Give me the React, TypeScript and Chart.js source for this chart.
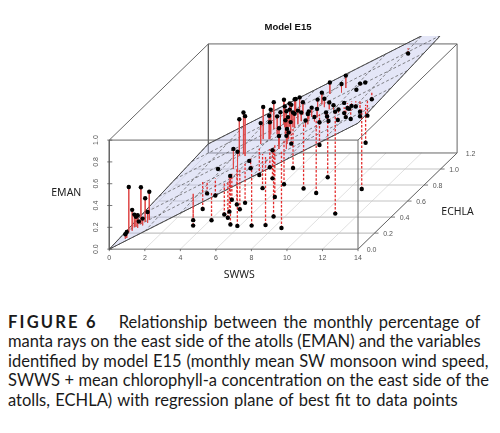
import React, { useEffect, useRef } from "react";
import { Chart, registerables } from "chart.js";

Chart.register(...registerables);

const TITLE = "Model E15";
const X_TITLE = "SWWS";
const Y_TITLE = "ECHLA";
const Z_TITLE = "EMAN";

// monthly observations
const SWWS = [
  0.40, 0.59, 0.48, 0.57, 0.90, 0.50, 0.85, 1.18, 1.09, 1.32, 1.46, 0.75, 0.67,
  3.42, 3.42, 3.12, 3.60, 5.15, 4.25, 3.75, 5.73, 5.93, 5.60,
  6.40, 6.48, 5.55, 5.60, 5.86, 5.86, 5.97, 6.11, 6.05, 6.71,
  5.98, 6.86, 7.40, 7.13, 7.42, 7.48, 7.18, 8.53, 7.65, 7.60,
  8.24, 9.09, 8.95, 9.83, 10.72, 13.00, 12.94, 5.22, 5.87, 7.56,
  8.11, 8.90, 7.92, 8.47, 8.14,
  4.53, 4.81, 5.18, 5.64, 5.41, 6.07, 5.74, 5.54, 6.11, 6.43,
  6.24, 7.60, 6.16, 6.53, 6.90, 7.31, 7.27, 6.76, 6.62, 6.40,
  7.41, 7.84, 6.53, 6.30, 7.64, 7.69, 7.18, 8.77, 8.71, 8.30,
  8.37, 9.13, 9.00, 8.24, 9.97, 8.20, 8.76, 9.97, 10.26, 9.50,
  8.00, 9.97, 10.62, 10.81, 11.19, 10.85, 9.12, 9.13, 10.43, 10.90,
  11.22, 10.85, 11.17, 11.08, 11.73, 10.42, 11.55, 10.40, 12.02, 12.16,
  10.69, 12.67, 12.22, 11.80, 7.64, 6.99,
];
const ECHLA = [
  0.15, 0.15, 0.20, 0.20, 0.15, 0.25, 0.20, 0.15, 0.20, 0.20, 0.15, 0.05, 0.05,
  0.28, 0.28, 0.46, 0.41, 0.13, 0.37, 0.51, 0.16, 0.16, 0.25,
  0.09, 0.07, 0.29, 0.34, 0.29, 0.32, 0.36, 0.38, 0.41, 0.28,
  0.53, 0.38, 0.30, 0.41, 0.38, 0.38, 0.46, 0.25, 0.47, 0.59,
  0.58, 0.55, 0.62, 0.53, 0.43, 0.26, 0.32, 0.38, 0.29, 0.35,
  0.31, 0.23, 0.50, 0.33, 0.42,
  0.60, 0.59, 0.53, 0.62, 0.70, 0.63, 0.72, 0.80, 0.63, 0.65,
  0.73, 0.42, 0.79, 0.72, 0.66, 0.56, 0.60, 0.73, 0.78, 0.88,
  0.63, 0.51, 0.90, 0.89, 0.64, 0.67, 0.80, 0.49, 0.53, 0.63,
  0.65, 0.52, 0.58, 0.75, 0.40, 0.81, 0.72, 0.48, 0.43, 0.62,
  0.95, 0.57, 0.45, 0.45, 0.36, 0.32, 0.85, 0.90, 0.60, 0.50,
  0.45, 0.55, 0.50, 0.55, 0.40, 0.75, 0.50, 0.80, 0.45, 0.42,
  0.80, 0.40, 0.55, 1.08, 0.60, 0.68,
];
const EMAN = [
  0.46, 0.25, 0.17, 0.15, 0.20, 0.07, 0.42, 0.17, 0.32, 0.38, 0.23, 0.12, 0.10,
  0.06, 0.01, 0.03, 0.21, 0.17, 0.22, 0.36, 0.20, 0.17, 0.16,
  0.16, 0.62, 0.24, 0.16, 0.00, 0.13, 0.16, 0.53, 0.44, 0.01,
  0.29, 0.28, 0.00, 0.45, 0.37, 0.02, 0.14, 0.01, 0.25, 0.31,
  0.13, 0.11, 0.50, 0.27, 0.01, 0.36, 0.74, 0.64, 0.68, 0.65,
  0.81, 0.87, 0.60, 0.86, 0.76,
  0.75, 0.82, 0.83, 0.70, 0.79, 0.76, 0.75, 0.76, 0.70, 0.74,
  0.72, 0.80, 0.79, 0.78, 0.78, 0.77, 0.77, 0.80, 0.75, 0.73,
  0.79, 0.79, 0.73, 0.72, 0.80, 0.76, 0.76, 0.82, 0.85, 0.80,
  0.82, 0.83, 0.86, 0.82, 0.87, 0.84, 0.85, 0.90, 0.90, 0.89,
  0.83, 0.90, 0.93, 0.95, 0.92, 0.94, 0.89, 0.93, 0.90, 0.88,
  0.88, 0.89, 0.92, 0.91, 0.90, 0.91, 0.94, 0.93, 0.93, 0.91,
  0.94, 0.93, 0.97, 1.00, 0.80, 0.78,
];

const SWWS_TICKS = [0, 2, 4, 6, 8, 10, 12, 14];
const SWWS_TICK_LABELS = ["0", "2", "4", "6", "8", "10", "12", "14"];
const ECHLA_TICKS = [0, 0.2, 0.4, 0.6, 0.8, 1.0, 1.2];
const ECHLA_TICK_LABELS = ["0.0", "0.2", "0.4", "0.6", "0.8", "1.0", "1.2"];
const EMAN_TICKS = [0, 0.2, 0.4, 0.6, 0.8, 1.0];
const EMAN_TICK_LABELS = ["0.0", "0.2", "0.4", "0.6", "0.8", "1.0"];

// regression plane EMAN ~ SWWS + ECHLA
const FIT_INTERCEPT = 0.0;
const FIT_SWWS = 0.0825;
const FIT_ECHLA = 0.07;

// oblique projection of the ECHLA (depth) axis
const DEPTH_X = 4.648; // SWWS units of horizontal shift per ECHLA unit
const DEPTH_Y = 0.7348; // EMAN units of vertical shift per ECHLA unit
const VIEW_X_MIN = -5.578;
const VIEW_X_MAX = 21.418;
const VIEW_Y_MIN = -0.3545;
const VIEW_Y_MAX = 1.9545;

const CAPTION_LABEL = "FIGURE 6";
const CAPTION_LINES = [
  "Relationship between the monthly percentage of",
  "manta rays on the east side of the atolls (EMAN) and the variables",
  "identified by model E15 (monthly mean SW monsoon wind speed,",
  "SWWS + mean chlorophyll-a concentration on the east side of the",
  "atolls, ECHLA) with regression plane of best fit to data points",
];
const CAPTION_WORD_SPACING = [2.0, -0.15, 0.6, 0.3, 1.1];

type Pt = { x: number | null; y: number | null };
const P = (s: number, c: number, e: number): Pt => ({ x: s + c * DEPTH_X, y: e + c * DEPTH_Y });
const GAP: Pt = { x: null, y: null };
const fit = (s: number, c: number) => FIT_INTERCEPT + FIT_SWWS * s + FIT_ECHLA * c;

export default function App() {
  const ref = useRef<HTMLCanvasElement>(null);

  useEffect(() => {
    const canvas = ref.current;
    if (!canvas) return;
    const sMin = SWWS_TICKS[0];
    const sMax = SWWS_TICKS[SWWS_TICKS.length - 1];
    const cMin = ECHLA_TICKS[0];
    const cMax = ECHLA_TICKS[ECHLA_TICKS.length - 1];
    const eMin = EMAN_TICKS[0];
    const eMax = EMAN_TICKS[EMAN_TICKS.length - 1];

    const seg = (a: Pt, b: Pt) => [a, b, GAP];

    const floorDiag = SWWS_TICKS.flatMap((s) => seg(P(s, cMin, eMin), P(s, cMax, eMin)));
    const floorHoriz = ECHLA_TICKS.slice(1, -1).flatMap((c) => seg(P(sMin, c, eMin), P(sMax, c, eMin)));

    const box: Pt[] = [
      P(sMin, cMin, eMin), P(sMax, cMin, eMin), P(sMax, cMin, eMax), P(sMin, cMin, eMax), P(sMin, cMin, eMin), GAP,
      P(sMin, cMax, eMin), P(sMax, cMax, eMin), P(sMax, cMax, eMax), P(sMin, cMax, eMax), P(sMin, cMax, eMin), GAP,
      ...seg(P(sMin, cMin, eMax), P(sMin, cMax, eMax)),
      ...seg(P(sMax, cMin, eMax), P(sMax, cMax, eMax)),
      ...seg(P(sMax, cMin, eMin), P(sMax, cMax, eMin)),
    ];

    const plane: Pt[] = [
      P(sMin, cMin, fit(sMin, cMin)),
      P(sMax, cMin, fit(sMax, cMin)),
      P(sMax, cMax, fit(sMax, cMax)),
      P(sMin, cMax, fit(sMin, cMax)),
      P(sMin, cMin, fit(sMin, cMin)),
    ];
    const planeGrid: Pt[] = [
      ...SWWS_TICKS.flatMap((s) => seg(P(s, cMin, fit(s, cMin)), P(s, cMax, fit(s, cMax)))),
      ...ECHLA_TICKS.flatMap((c) => seg(P(sMin, c, fit(sMin, c)), P(sMax, c, fit(sMax, c)))),
    ];

    const above: Pt[] = [];
    const below: Pt[] = [];
    const pts: Pt[] = [];
    SWWS.forEach((s, i) => {
      const c = ECHLA[i];
      const e = EMAN[i];
      const f = fit(s, c);
      pts.push(P(s, c, e));
      (e > f ? above : below).push(...seg(P(s, c, e), P(s, c, f)));
    });

    const lineDs = (data: Pt[], color: string, width: number, order: number, extra: any = {}) => ({
      data,
      showLine: true,
      borderColor: color,
      backgroundColor: color,
      borderWidth: width,
      pointRadius: 0,
      pointHoverRadius: 0,
      fill: false,
      spanGaps: false,
      tension: 0,
      order,
      ...extra,
    });

    const annot = {
      id: "annot3d",
      afterDraw(chart: any) {
        const ctx = chart.ctx as CanvasRenderingContext2D;
        const xs = chart.scales.x;
        const ys = chart.scales.y;
        const px = (s: number, c: number, e: number) => {
          const p = P(s, c, e);
          return [xs.getPixelForValue(p.x), ys.getPixelForValue(p.y)];
        };
        const ln = (x1: number, y1: number, x2: number, y2: number) => {
          ctx.beginPath();
          ctx.moveTo(x1, y1);
          ctx.lineTo(x2, y2);
          ctx.stroke();
        };
        ctx.save();
        ctx.setLineDash([]);
        ctx.strokeStyle = "#555";
        ctx.lineWidth = 0.8;
        ctx.fillStyle = "#555";
        ctx.font = '7px "Liberation Sans", Arial, sans-serif';
        ctx.textAlign = "center";
        ctx.textBaseline = "middle";
        EMAN_TICKS.forEach((v, i) => {
          const [x, y] = px(sMin, cMin, v);
          ln(x - 2, y, x + 3, y);
          ctx.save();
          ctx.translate(x - 13, y);
          ctx.rotate(-Math.PI / 2);
          ctx.fillText(EMAN_TICK_LABELS[i], 0, 0);
          ctx.restore();
        });
        SWWS_TICKS.forEach((v, i) => {
          const [x, y] = px(v, cMin, eMin);
          ln(x, y, x, y + 2);
          ctx.fillText(SWWS_TICK_LABELS[i], x, y + 9);
        });
        ECHLA_TICKS.forEach((v, i) => {
          const [x, y] = px(sMax, v, eMin);
          if (i > 0 && i < ECHLA_TICKS.length - 1) ln(x, y, x + 4, y);
          ctx.fillText(ECHLA_TICK_LABELS[i], x + 13.5, y + 1);
        });
        ctx.fillStyle = "#222";
        ctx.font = '10.5px "Noto Sans", "Open Sans", sans-serif';
        const [ex, ey] = px(sMin, cMin, (eMin + eMax) / 2);
        ctx.fillText(Z_TITLE, ex - 43, ey - 2);
        const [sx, sy] = px((sMin + sMax) / 2, cMin, eMin);
        ctx.fillText(X_TITLE, sx + 5.5, sy + 26);
        const [cx, cy] = px(sMax, (cMin + cMax) / 2, eMin);
        ctx.fillText(Y_TITLE, cx + 50, cy + 11);
        ctx.fillStyle = "#111";
        ctx.font = 'bold 9.5px "Liberation Sans", Arial, sans-serif';
        ctx.fillText(TITLE, 280, 19);
        ctx.restore();
      },
    };

    const chart = new Chart(canvas, {
      type: "line",
      data: {
        datasets: [
          {
            data: pts,
            showLine: false,
            pointRadius: 2.2,
            pointHoverRadius: 2.2,
            pointBackgroundColor: "#000",
            pointBorderColor: "#000",
            pointBorderWidth: 0,
            order: 0,
          } as any,
          lineDs(above, "rgba(222,70,70,0.85)", 1, 1),
          lineDs(below, "rgb(228,45,45)", 1.3, 1, { borderDash: [2.5, 1.6] }),
          lineDs(planeGrid, "#555", 0.7, 2, { borderDash: [3, 2.2] }),
          lineDs(plane, "#444", 1, 3, { fill: "shape", backgroundColor: "rgba(190,195,235,0.42)" }),
          lineDs(box, "#666", 1, 4),
          lineDs(floorHoriz, "#c4c4c4", 1.1, 5),
          lineDs(floorDiag, "#d8d8d8", 0.8, 6),
        ],
      },
      options: {
        animation: false,
        responsive: false,
        events: [],
        layout: { padding: { top: 28, left: 0, right: 0, bottom: 0 } },
        scales: {
          x: { type: "linear", min: VIEW_X_MIN, max: VIEW_X_MAX, display: false },
          y: { type: "linear", min: VIEW_Y_MIN, max: VIEW_Y_MAX, display: false },
        },
        plugins: { legend: { display: false }, tooltip: { enabled: false }, title: { display: false } },
      },
      plugins: [annot],
    } as any);
    return () => chart.destroy();
  }, []);

  return (
    <div style={{ width: 484 }}>
      <canvas ref={ref} width={484} height={282} style={{ display: "block", width: 484, height: 282 }} />
      <div
        style={{
          marginTop: 23,
          fontFamily: "Lato, sans-serif",
          fontSize: 16.5,
          lineHeight: "19.4px",
          color: "#1a1a1a",
          whiteSpace: "nowrap",
        }}
      >
        {CAPTION_LINES.map((l, i) => (
          <div key={i} style={{ wordSpacing: CAPTION_WORD_SPACING[i] }}>
            {i === 0 && (
              <span style={{ fontWeight: 700, letterSpacing: 2.2, marginRight: 21, wordSpacing: 0 }}>
                {CAPTION_LABEL}
              </span>
            )}
            {l}
          </div>
        ))}
      </div>
    </div>
  );
}
